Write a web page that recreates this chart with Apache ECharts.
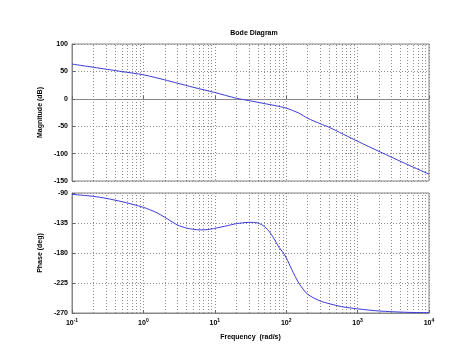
<!DOCTYPE html>
<html>
<head>
<meta charset="utf-8">
<script src="https://cdn.jsdelivr.net/npm/echarts@6/dist/echarts.min.js"></script>
<style>html,body{margin:0;padding:0;background:#fff}#c{width:474px;height:355px}</style>
</head>
<body>
<div id="c"></div>
<script>
// ---- data ----
var magFreq = [0.1, 0.2, 0.5, 1, 2, 3, 5, 10, 20, 30, 50, 70, 100, 150, 200, 300, 400, 1000, 2000, 5000, 10000];
var magDb   = [63.4, 57.5, 49.7, 43.8, 34.5, 28.5, 21, 11.5, 1, -3.3, -8.8, -12.4, -17, -26, -35.5, -45.5, -52, -77.5, -96, -120, -137.5];

var phFreq = [0.1, 0.2, 0.3, 0.5, 1, 1.5, 2, 3, 4, 5, 6, 8, 10, 15, 20, 30, 40, 50, 60, 70, 80, 90, 100, 120, 150, 200, 300, 400, 600, 1000, 2000, 5000, 10000];
var phDeg  = [-92, -95, -98, -103, -111.5, -119, -126.5, -138, -142.5, -144.5, -145.3, -144.8, -143, -139, -136, -134, -135, -140.5, -150, -161.5, -172, -179, -187, -205, -225, -242, -252, -256, -260.5, -263.8, -267, -269, -269.5];

var magTicks = [-150, -100, -50, 0, 50, 100];
var phTicks = [-270, -225, -180, -135, -90];
var decades = [0.1, 1, 10, 100, 1000, 10000];
var minorMult = [2, 3, 4, 5, 6, 7, 8, 9];

var titleText = 'Bode Diagram';
var magName = 'Magnitude (dB)';
var phName = 'Phase (deg)';
var freqName = 'Frequency  (rad/s)';

// ---- build ----
var minorLines = [];
for (var d = 0; d < decades.length - 1; d++) {
  for (var m = 0; m < minorMult.length; m++) {
    minorLines.push({ xAxis: +(decades[d] * minorMult[m]).toPrecision(6) });
  }
}
function pairs(xs, ys) { return xs.map(function (x, i) { return [x, ys[i]]; }); }

function expLabel(v) {
  var e = Math.round(Math.log10(v));
  return '{b|10}{s|' + String(e) + '}';
}

var FONT = 'Liberation Sans';
var gridColor = '#8c8c8c';
var lineColor = '#3a3ad8';

function xAxisCfg(idx, showLabels) {
  return {
    type: 'log', logBase: 10, gridIndex: idx, min: 0.1, max: 10000,
    axisLine: { show: true, lineStyle: { color: '#888', width: 1 } },
    axisTick: { show: true, inside: true, length: 3, lineStyle: { color: '#666' } },
    splitLine: { show: true, lineStyle: { type: [1, 2], color: gridColor, width: 1 } },
    axisLabel: showLabels ? {
      show: true, formatter: expLabel, margin: 5,
      rich: {
        b: { fontFamily: FONT, fontWeight: 'bold', fontSize: 7, color: '#000', verticalAlign: 'bottom' },
        s: { fontFamily: FONT, fontWeight: 'bold', fontSize: 5, color: '#000', verticalAlign: 'top', padding: [0, 0, 4, 0] }
      }
    } : { show: false },
    name: showLabels ? freqName : '', nameLocation: 'middle', nameGap: 21,
    nameTextStyle: { fontFamily: FONT, fontWeight: 'bold', fontSize: 7, color: '#000' }
  };
}
function yAxisCfg(idx, min, max, interval, name) {
  return {
    type: 'value', gridIndex: idx, min: min, max: max, interval: interval,
    axisLine: { show: true, lineStyle: { color: '#888', width: 1 } },
    axisTick: { show: true, inside: true, length: 3, lineStyle: { color: '#666' } },
    splitLine: { show: true, lineStyle: { type: [1, 2], color: gridColor, width: 1 } },
    axisLabel: { fontFamily: FONT, fontWeight: 'bold', fontSize: 7, color: '#000', margin: 4 },
    name: name, nameLocation: 'middle', nameGap: 23, nameRotate: 90,
    nameTextStyle: { fontFamily: FONT, fontWeight: 'bold', fontSize: 7, color: '#000' }
  };
}
function minorSeries(xi, yi) {
  return {
    type: 'line', xAxisIndex: xi, yAxisIndex: yi, data: [], silent: true,
    markLine: {
      silent: true, symbol: ['none', 'none'], label: { show: false },
      lineStyle: { type: [1, 2], color: gridColor, width: 1 },
      animation: false, data: minorLines
    }
  };
}

var chart = echarts.init(document.getElementById('c'), null, { renderer: 'canvas' });
chart.setOption({
  animation: false,
  backgroundColor: '#fff',
  title: {
    text: titleText, left: 249, top: 25, textAlign: 'center',
    textStyle: { fontFamily: FONT, fontWeight: 'bold', fontSize: 7, color: '#000' }
  },
  grid: [
    { left: 72, top: 44, width: 357, height: 137, show: true, borderColor: '#888', borderWidth: 1, backgroundColor: '#fff' },
    { left: 72, top: 193, width: 357, height: 120, show: true, borderColor: '#888', borderWidth: 1, backgroundColor: '#fff' }
  ],
  xAxis: [xAxisCfg(0, false), xAxisCfg(1, true)],
  yAxis: [
    yAxisCfg(0, magTicks[0], magTicks[magTicks.length - 1], 50, magName),
    yAxisCfg(1, phTicks[0], phTicks[phTicks.length - 1], 45, phName)
  ],
  series: [
    minorSeries(0, 0),
    minorSeries(1, 1),
    { type: 'line', xAxisIndex: 0, yAxisIndex: 0, data: pairs(magFreq, magDb), smooth: 0.25,
      showSymbol: false, lineStyle: { color: lineColor, width: 1 }, z: 5 },
    { type: 'line', xAxisIndex: 1, yAxisIndex: 1, data: pairs(phFreq, phDeg), smooth: 0.25,
      showSymbol: false, lineStyle: { color: lineColor, width: 1 }, z: 5 }
  ]
});
</script>
</body>
</html>
